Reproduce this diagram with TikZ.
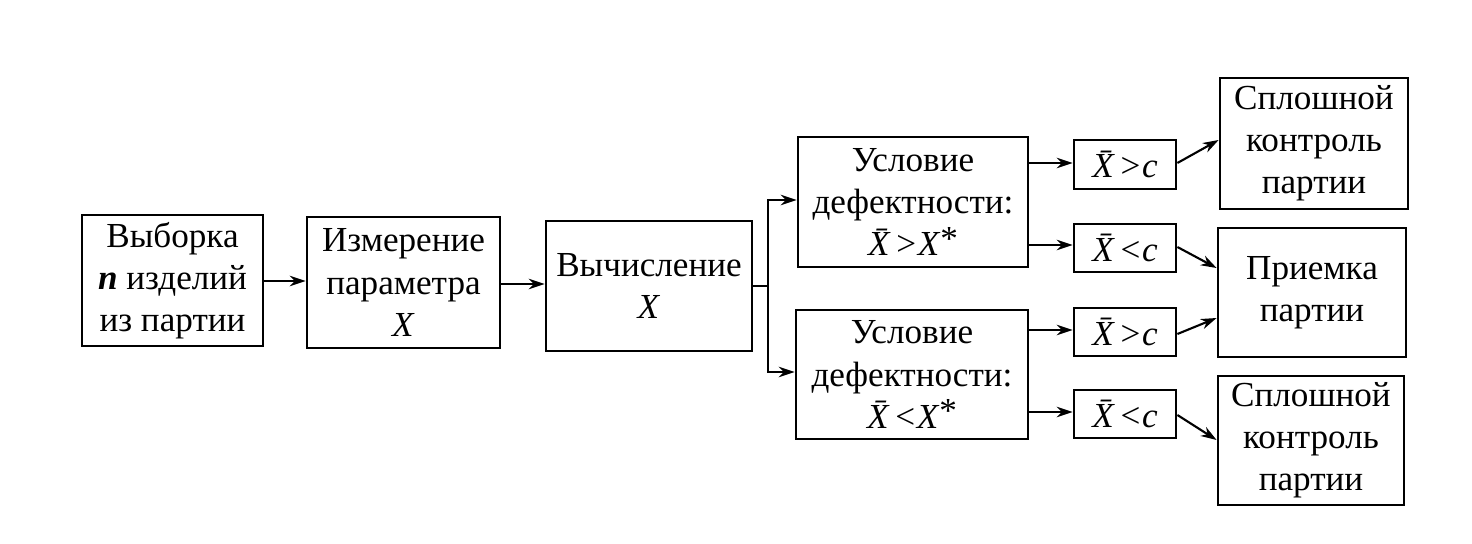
\documentclass[tikz,border=0pt]{standalone}
\usepackage{fontspec}
\setmainfont{Liberation Serif}
\usetikzlibrary{arrows.meta}
\newcommand\Xb{\textit{\=X}}
\newcommand\Xs{\textit{X}\raisebox{0.35ex}{*}}
\begin{document}
\begin{tikzpicture}[x=0.02cm,y=-0.02cm,
  box/.style={draw,line width=1.6pt,align=center,inner sep=0pt,font=\fontsize{20}{24}\selectfont},
  arr/.style={line width=1.2pt,-{Stealth[length=9pt,width=6pt]}}]
\useasboundingbox (0,0) rectangle (1472,544);
\newcommand\bx[6]{\node[box,minimum width={(#4-#2)*0.02cm},minimum height={(#5-#3)*0.02cm}] (#1) at ({(#2+#4)/2},{(#3+#5)/2}) {#6};}
\bx{b1}{82}{215}{263}{346}{Выборка\\\textbf{\textit{n}} изделий\\из партии}
\bx{b2}{307}{217}{500}{348}{Измерение\\параметра\\\textit{X}}
\bx{b3}{546}{221}{752}{351}{Вычисление\\\textit{X}}
\bx{c1}{798}{137}{1028}{267}{Условие\\дефектности:\\\Xb\kern-1pt>\kern1pt\Xs}
\bx{c2}{796}{310}{1028}{439}{Условие\\дефектности:\\\Xb\kern-1pt<\kern1pt\Xs}
\bx{s1}{1074}{140}{1176}{189}{\Xb\kern-1pt>\kern1pt\textit{c}}
\bx{s2}{1074}{224}{1176}{272}{\Xb\kern-1pt<\kern1pt\textit{c}}
\bx{s3}{1074}{308}{1176}{356}{\Xb\kern-1pt>\kern1pt\textit{c}}
\bx{s4}{1074}{390}{1176}{438}{\Xb\kern-1pt<\kern1pt\textit{c}}
\bx{r1}{1220}{78}{1408}{209}{Сплошной\\контроль\\партии}
\bx{r2}{1218}{228}{1406}{357}{Приемка\\партии}
\bx{r3}{1218}{376}{1404}{505}{Сплошной\\контроль\\партии}
\draw[arr] (b1.east|-0,281) -- (b2.west|-0,281);
\draw[arr] (b2.east|-0,284) -- (b3.west|-0,284);
\coordinate (j) at (768,286);
\draw[line width=1.2pt] (b3.east|-j) -- (j);
\draw[arr] (j) |- (c1.west|-0,200);
\draw[arr] (j) |- (c2.west|-0,372);
\draw[arr] (c1.east|-0,163) -- (s1.west|-0,163);
\draw[arr] (c1.east|-0,245) -- (s2.west|-0,245);
\draw[arr] (c2.east|-0,330) -- (s3.west|-0,330);
\draw[arr] (c2.east|-0,412) -- (s4.west|-0,412);
\draw[arr] (s1.east|-0,163) -- (r1.west|-0,140);
\draw[arr] (s2.east|-0,247) -- (r2.west|-0,268);
\draw[arr] (s3.east|-0,334) -- (r2.west|-0,318);
\draw[arr] (s4.east|-0,415) -- (r3.west|-0,440);
\end{tikzpicture}
\end{document}
